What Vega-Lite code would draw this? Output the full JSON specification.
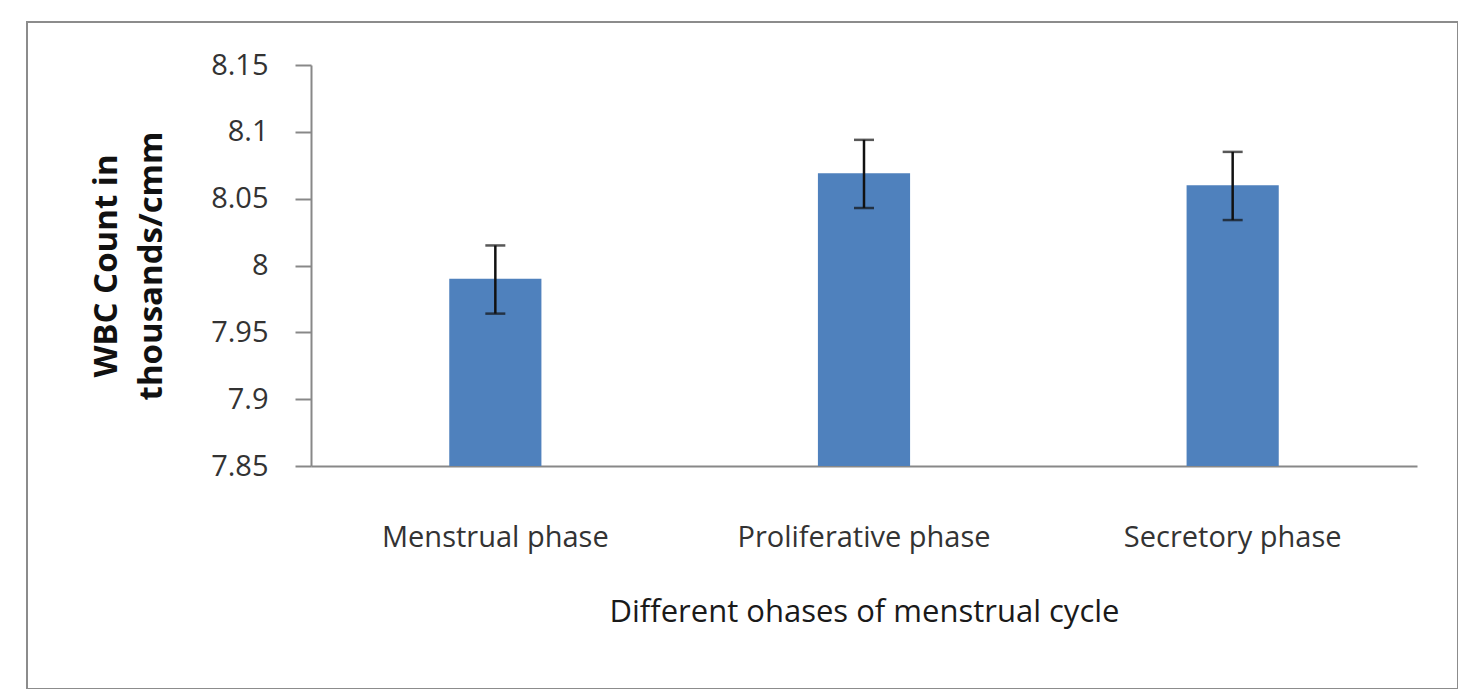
{
  "$schema": "https://vega.github.io/schema/vega-lite/v6.json",
  "width": 1431,
  "height": 667,
  "autosize": {"type": "none"},
  "padding": {"left": 27, "top": 22, "right": 0, "bottom": 0},
  "background": "white",
  "data": {
    "values": [
      {"phase": "Menstrual phase", "mean": 7.99, "lo": 7.964, "hi": 8.015},
      {"phase": "Proliferative phase", "mean": 8.069, "lo": 8.043, "hi": 8.094},
      {"phase": "Secretory phase", "mean": 8.06, "lo": 8.034, "hi": 8.085}
    ]
  },
  "encoding": {
    "x": {
      "field": "phase",
      "type": "nominal",
      "sort": null,
      "title": "Different ohases of menstrual cycle",
      "scale": {"range": [284, 1390], "paddingInner": 0, "paddingOuter": 0},
      "axis": {
        "offset": -223,
        "labelAngle": 0,
        "labelLimit": 0,
        "ticks": false,
        "labelPadding": 57,
        "titlePadding": 45,
        "titleFontSize": 31,
        "titleFontWeight": "normal",
        "titleColor": "#1a1a1a"
      }
    }
  },
  "layer": [
    {
      "mark": {"type": "bar", "color": "#4f81bd", "width": {"band": 0.25}},
      "encoding": {
        "y": {
          "field": "mean",
          "type": "quantitative",
          "title": ["WBC Count in", "thousands/cmm"],
          "scale": {"domain": [7.85, 8.15], "range": [444, 43], "zero": false, "nice": false},
          "axis": {
            "offset": -284,
            "values": [7.85, 7.9, 7.95, 8, 8.05, 8.1, 8.15],
            "format": "~g",
            "grid": false,
            "tickSize": 16,
            "labelPadding": 27,
            "titlePadding": 42,
            "titleFontSize": 33,
            "titleFontWeight": "bold",
            "titleLineHeight": 45,
            "titleColor": "#111"
          }
        },
        "y2": {"datum": 7.85}
      }
    },
    {
      "mark": {"type": "rule", "color": "#111", "strokeWidth": 2.5},
      "encoding": {
        "y": {"field": "lo", "type": "quantitative"},
        "y2": {"field": "hi"}
      }
    },
    {
      "mark": {"type": "tick", "color": "#111", "size": 20, "thickness": 2.5},
      "encoding": {"y": {"field": "lo", "type": "quantitative"}}
    },
    {
      "mark": {"type": "tick", "color": "#111", "size": 20, "thickness": 2.5},
      "encoding": {"y": {"field": "hi", "type": "quantitative"}}
    }
  ],
  "config": {
    "font": "Open Sans",
    "view": {"stroke": "#8c8c8c", "strokeWidth": 2},
    "axis": {
      "domainColor": "#888",
      "domainWidth": 2,
      "tickColor": "#888",
      "tickWidth": 2,
      "labelFontSize": 29,
      "labelColor": "#333"
    }
  }
}
